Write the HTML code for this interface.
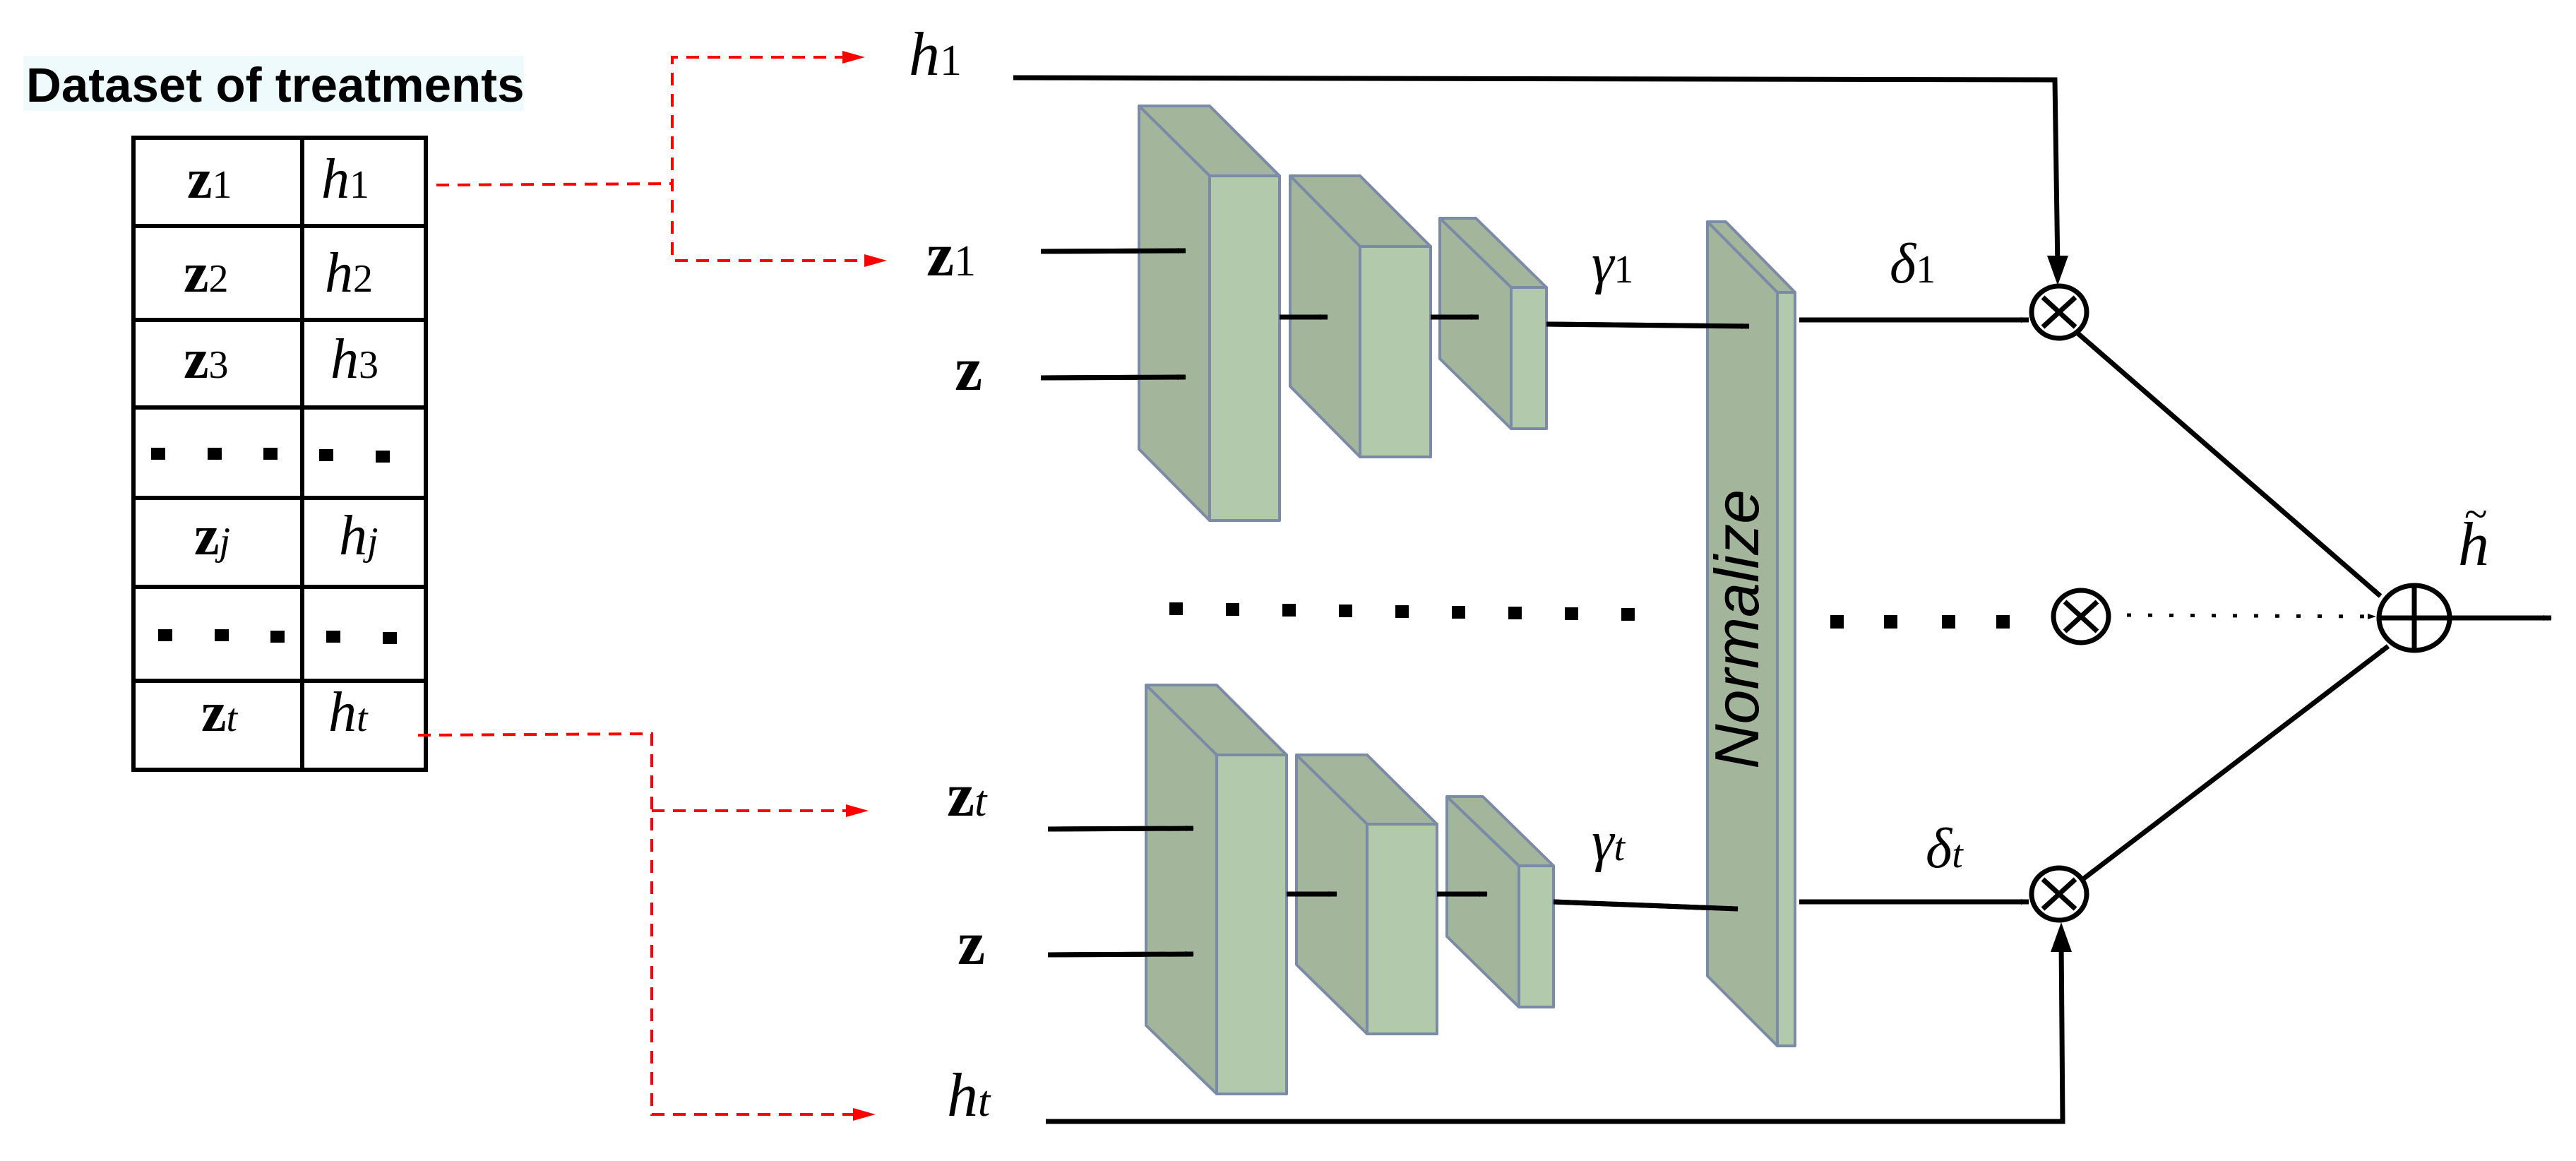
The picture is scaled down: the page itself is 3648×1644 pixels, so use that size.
<!DOCTYPE html>
<html><head><meta charset="utf-8"><style>
html,body{margin:0;padding:0;background:#fff;}
svg{display:block;}
.m{font-family:"Liberation Serif",serif;font-style:italic;}
.b{font-family:"Liberation Serif",serif;font-weight:bold;}
</style></head><body>
<svg width="3648" height="1644" viewBox="0 0 3648 1644" xmlns="http://www.w3.org/2000/svg">
<defs>
<marker id="ak" markerWidth="12" markerHeight="8" refX="11" refY="4" orient="auto" markerUnits="userSpaceOnUse" viewBox="0 0 12 8"><path d="M0,0 L12,4 L0,8 z" fill="#000"/></marker>
</defs>
<!-- Title -->
<rect x="33" y="79" width="709" height="78" fill="#eefafc"/>
<text x="37" y="144" font-family="Liberation Sans, sans-serif" font-weight="bold" font-size="69" fill="#000">Dataset of treatments</text>
<!-- Table -->
<g stroke="#000" stroke-width="6" fill="none">
<rect x="189" y="195" width="414" height="895"/>
<line x1="428" y1="195" x2="428" y2="1090"/>
<line x1="189" y1="320" x2="603" y2="320"/>
<line x1="189" y1="453" x2="603" y2="453"/>
<line x1="189" y1="577" x2="603" y2="577"/>
<line x1="189" y1="705" x2="603" y2="705"/>
<line x1="189" y1="831" x2="603" y2="831"/>
<line x1="189" y1="964" x2="603" y2="964"/>
</g>
<g font-size="80">
<text class="b" x="265" y="280">z<tspan font-size="56" font-weight="normal">1</tspan></text>
<text class="m" x="455" y="280">h<tspan font-size="56" font-style="normal">1</tspan></text>
<text class="b" x="260" y="413">z<tspan font-size="56" font-weight="normal">2</tspan></text>
<text class="m" x="460" y="413">h<tspan font-size="56" font-style="normal">2</tspan></text>
<text class="b" x="260" y="535">z<tspan font-size="56" font-weight="normal">3</tspan></text>
<text class="m" x="468" y="535">h<tspan font-size="56" font-style="normal">3</tspan></text>
<text class="b" x="275" y="785">z<tspan font-size="56" font-style="italic" font-weight="normal">j</tspan></text>
<text class="m" x="480" y="785">h<tspan font-size="56">j</tspan></text>
<text class="b" x="285" y="1035">z<tspan font-size="56" font-style="italic" font-weight="normal">t</tspan></text>
<text class="m" x="465" y="1035">h<tspan font-size="56">t</tspan></text>
</g>
<g fill="#000">
<rect x="214" y="634" width="20" height="17"/><rect x="294" y="634" width="20" height="17"/><rect x="373" y="634" width="20" height="17"/><rect x="452" y="636" width="20" height="17"/><rect x="532" y="638" width="20" height="17"/>
<rect x="224" y="891" width="20" height="17"/><rect x="304" y="891" width="20" height="17"/><rect x="383" y="893" width="20" height="17"/><rect x="462" y="893" width="20" height="17"/><rect x="542" y="895" width="20" height="17"/>
</g>
<!-- red dashed -->
<g stroke="#f00" stroke-width="4" stroke-dasharray="18 12" fill="none">
<polyline points="618,262 952,260"/>
<polyline points="1200,81 952,81 952,369 1230,369"/>
<polyline points="592,1041 923,1039 923,1578 1214,1578"/>
<polyline points="923,1148 1204,1148"/>
</g>
<g fill="#f00">
<path d="M1225,81 l-32,-9 l0,18 z"/>
<path d="M1256,369 l-32,-9 l0,18 z"/>
<path d="M1230,1148 l-32,-9 l0,18 z"/>
<path d="M1240,1578 l-32,-9 l0,18 z"/>
</g>
<!-- labels left -->
<text class="m" x="1287" y="106" font-size="88">h<tspan font-size="62" font-style="normal">1</tspan></text>
<text class="b" x="1312" y="390" font-size="88">z<tspan font-size="62" font-weight="normal">1</tspan></text>
<text class="b" x="1352" y="552" font-size="88">z</text>
<text class="b" x="1341" y="1155" font-size="88">z<tspan font-size="62" font-style="italic" font-weight="normal">t</tspan></text>
<text class="b" x="1356" y="1365" font-size="88">z</text>
<text class="m" x="1341" y="1580" font-size="88">h<tspan font-size="62">t</tspan></text>
<!-- black lines -->
<g stroke="#000" stroke-width="7" fill="none">
<polyline points="1435,110 2910,113 2914,380"/>
<polyline points="1481,1588 2921,1588 2919,1330"/>
<line x1="1474" y1="356" x2="1679" y2="355" marker-end="url(#ak)"/>
<line x1="1474" y1="535" x2="1679" y2="534" marker-end="url(#ak)"/>
<line x1="1484" y1="1174" x2="1690" y2="1173" marker-end="url(#ak)"/>
<line x1="1484" y1="1352" x2="1690" y2="1351" marker-end="url(#ak)"/>
<line x1="1812" y1="449" x2="1880" y2="449" marker-end="url(#ak)"/>
<line x1="2026" y1="449" x2="2094" y2="449" marker-end="url(#ak)"/>
<line x1="1822" y1="1266" x2="1893" y2="1266" marker-end="url(#ak)"/>
<line x1="2035" y1="1266" x2="2106" y2="1266" marker-end="url(#ak)"/>
<line x1="2190" y1="459" x2="2477" y2="462" marker-end="url(#ak)"/>
<line x1="2200" y1="1277" x2="2461" y2="1287" marker-end="url(#ak)"/>
<line x1="2548" y1="453" x2="2873" y2="453" marker-end="url(#ak)"/>
<line x1="2548" y1="1277" x2="2873" y2="1277" marker-end="url(#ak)"/>
<line x1="2939" y1="469" x2="3371" y2="844" marker-end="url(#ak)"/>
<line x1="2947" y1="1247" x2="3382" y2="915" marker-end="url(#ak)"/>
<line x1="3472" y1="875" x2="3613" y2="875" marker-end="url(#ak)"/>
<line x1="3012" y1="871" x2="3364" y2="873" stroke-width="5" stroke-dasharray="6 24" marker-end="url(#ak)"/>
</g>
<g fill="#000">
<path d="M2914,404 l-15,-42 l30,0 z"/>
<path d="M2919,1306 l-15,42 l30,0 z"/>
</g>
<!-- blocks -->
<g stroke="#7b8aa6" stroke-width="4" stroke-linejoin="round">
<polygon points="1613,150 1713,150 1812,249 1713,249" fill="#a3b59a"/>
<polygon points="1613,150 1713,249 1713,737 1613,636" fill="#a3b59a"/>
<rect x="1713" y="249" width="99" height="488" fill="#b3c9ab"/>
<polygon points="1827,249 1926,249 2026,349 1926,349" fill="#a3b59a"/>
<polygon points="1827,249 1926,349 1926,647 1827,547" fill="#a3b59a"/>
<rect x="1926" y="349" width="100" height="298" fill="#b3c9ab"/>
<polygon points="2039,309 2090,309 2190,407 2140,407" fill="#a3b59a"/>
<polygon points="2039,309 2140,407 2140,607 2039,508" fill="#a3b59a"/>
<rect x="2140" y="407" width="50" height="200" fill="#b3c9ab"/>

<polygon points="1623,970 1723,970 1822,1069 1723,1069" fill="#a3b59a"/>
<polygon points="1623,970 1723,1069 1723,1549 1623,1452" fill="#a3b59a"/>
<rect x="1723" y="1069" width="99" height="480" fill="#b3c9ab"/>
<polygon points="1836,1069 1936,1069 2035,1167 1936,1167" fill="#a3b59a"/>
<polygon points="1836,1069 1936,1167 1936,1464 1836,1366" fill="#a3b59a"/>
<rect x="1936" y="1167" width="99" height="297" fill="#b3c9ab"/>
<polygon points="2049,1128 2100,1128 2200,1226 2151,1226" fill="#a3b59a"/>
<polygon points="2049,1128 2151,1226 2151,1426 2049,1326" fill="#a3b59a"/>
<rect x="2151" y="1226" width="49" height="200" fill="#b3c9ab"/>

<polygon points="2418,314 2444,314 2542,414 2517,414" fill="#a3b59a"/>
<polygon points="2418,314 2517,414 2517,1481 2418,1382" fill="#a3b59a"/>
<rect x="2517" y="414" width="25" height="1067" fill="#b3c9ab"/>
</g>
<!-- re-draw inner arrows on top of blocks -->
<g stroke="#000" stroke-width="7">
<line x1="1474" y1="356" x2="1679" y2="355" marker-end="url(#ak)"/>
<line x1="1474" y1="535" x2="1679" y2="534" marker-end="url(#ak)"/>
<line x1="1484" y1="1174" x2="1690" y2="1173" marker-end="url(#ak)"/>
<line x1="1484" y1="1352" x2="1690" y2="1351" marker-end="url(#ak)"/>
<line x1="1812" y1="449" x2="1880" y2="449" marker-end="url(#ak)"/>
<line x1="2026" y1="449" x2="2094" y2="449" marker-end="url(#ak)"/>
<line x1="1822" y1="1266" x2="1893" y2="1266" marker-end="url(#ak)"/>
<line x1="2035" y1="1266" x2="2106" y2="1266" marker-end="url(#ak)"/>
<line x1="2190" y1="459" x2="2477" y2="462" marker-end="url(#ak)"/>
<line x1="2200" y1="1277" x2="2461" y2="1287" marker-end="url(#ak)"/>
</g>
<text transform="translate(2490,891) rotate(-90)" text-anchor="middle" font-family="Liberation Sans, sans-serif" font-style="italic" font-size="88" fill="#000">Normalize</text>
<!-- gamma / delta -->
<text class="m" x="2254" y="400" font-size="80">γ<tspan font-size="56" font-style="normal">1</tspan></text>
<text class="m" x="2254" y="1218" font-size="80">γ<tspan font-size="56">t</tspan></text>
<text class="m" x="2676" y="400" font-size="80">δ<tspan font-size="56" font-style="normal">1</tspan></text>
<text class="m" x="2727" y="1228" font-size="80">δ<tspan font-size="56">t</tspan></text>
<text class="m" x="3481" y="800" font-size="88">h</text>
<text x="3490" y="748" font-family="Liberation Serif, serif" font-size="60">~</text>
<!-- dots -->
<g fill="#000">
<rect x="1656" y="853" width="19" height="18"/><rect x="1736" y="854" width="19" height="18"/><rect x="1816" y="855" width="19" height="18"/><rect x="1896" y="856" width="19" height="18"/><rect x="1976" y="857" width="19" height="18"/><rect x="2056" y="858" width="19" height="18"/><rect x="2136" y="859" width="19" height="18"/><rect x="2216" y="860" width="19" height="18"/><rect x="2296" y="861" width="19" height="18"/>
<rect x="2592" y="871" width="19" height="19"/><rect x="2668" y="871" width="19" height="19"/><rect x="2750" y="871" width="19" height="19"/><rect x="2827" y="871" width="19" height="19"/>
</g>
<!-- operators -->
<g stroke="#000" stroke-width="7" fill="#fff">
<ellipse cx="2916" cy="442" rx="39" ry="37"/>
<ellipse cx="2947" cy="873" rx="39" ry="37"/>
<ellipse cx="2916" cy="1266" rx="39" ry="37"/>
<ellipse cx="3419" cy="875" rx="50" ry="46"/>
</g>
<g stroke="#000" stroke-width="7">
<line x1="2893" y1="421" x2="2939" y2="463"/><line x1="2939" y1="421" x2="2893" y2="463"/>
<line x1="2924" y1="852" x2="2970" y2="894"/><line x1="2970" y1="852" x2="2924" y2="894"/>
<line x1="2893" y1="1245" x2="2939" y2="1287"/><line x1="2939" y1="1245" x2="2893" y2="1287"/>
<line x1="3369" y1="875" x2="3469" y2="875"/><line x1="3419" y1="829" x2="3419" y2="921"/>
</g>
</svg>
</body></html>
